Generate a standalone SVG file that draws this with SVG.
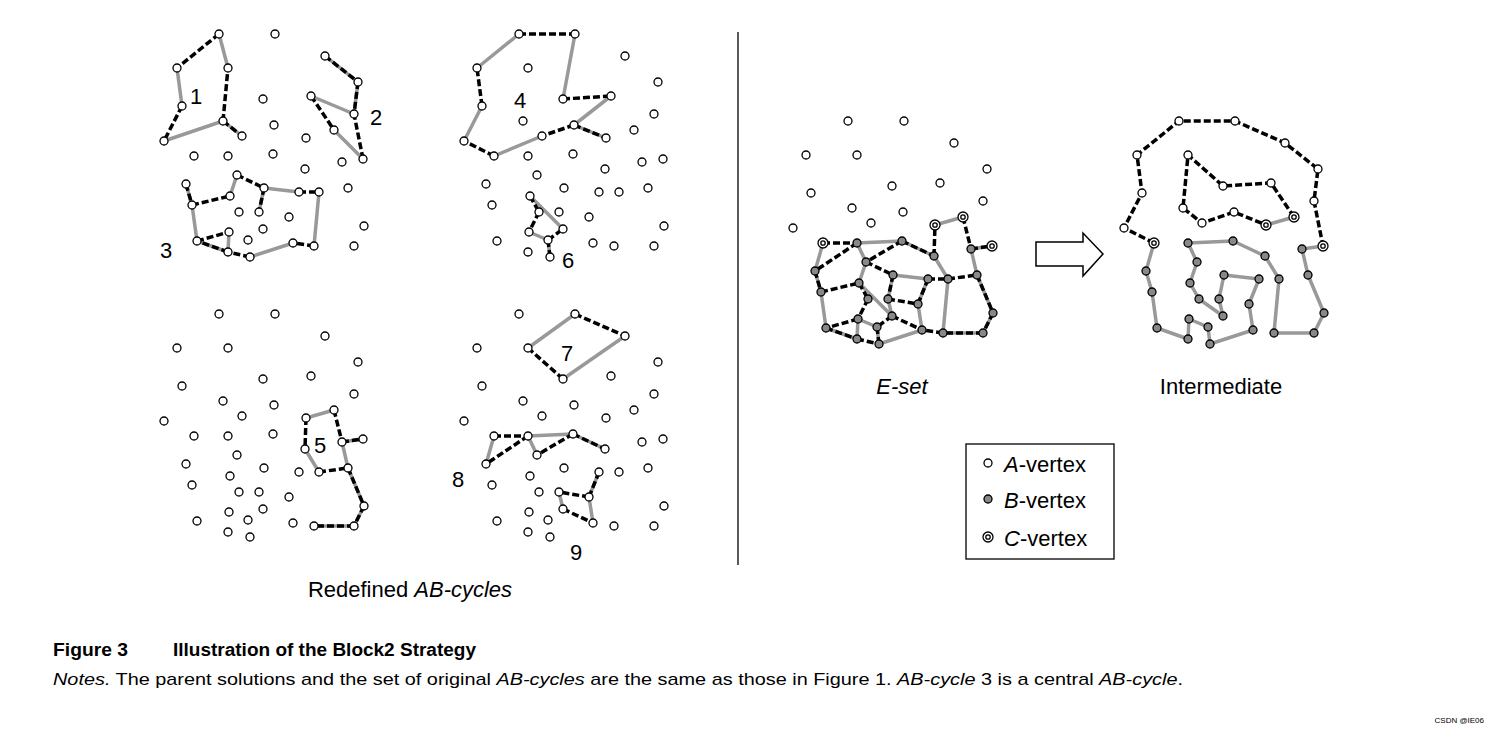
<svg xmlns="http://www.w3.org/2000/svg" xmlns:xlink="http://www.w3.org/1999/xlink" width="1498" height="734" viewBox="0 0 1498 734">
<style>
.g{fill:none;stroke:#999;stroke-width:3.5;stroke-linecap:round;stroke-linejoin:round}
.d{fill:none;stroke:#000;stroke-width:3.5;stroke-dasharray:7 3}
.pw{fill:#fff;stroke:#000;stroke-width:1.3}
.pb{fill:#888;stroke:#000;stroke-width:1.3}
.lab{font-family:"Liberation Sans",Arial,sans-serif;font-size:22px;fill:#000}
.cap{font-family:"Liberation Sans",Arial,sans-serif;fill:#000}
</style>
<defs>
<g id="wp">
<circle cx="219" cy="34" r="4"/><circle cx="275" cy="34" r="4"/><circle cx="325" cy="56" r="4"/><circle cx="177" cy="68" r="4"/><circle cx="228" cy="68" r="4"/><circle cx="358" cy="82" r="4"/><circle cx="182" cy="106" r="4"/><circle cx="263" cy="99" r="4"/><circle cx="311" cy="96" r="4"/><circle cx="354" cy="114" r="4"/><circle cx="223" cy="121" r="4"/><circle cx="274" cy="125" r="4"/><circle cx="164" cy="141" r="4"/><circle cx="242" cy="136" r="4"/>
</g>
<g id="cp"><circle cx="306" cy="138" r="4"/><circle cx="334" cy="130" r="4"/><circle cx="363" cy="159" r="4"/><circle cx="194" cy="156" r="4"/></g>
<g id="cpb"><circle cx="306" cy="138" r="5"/><circle cx="334" cy="130" r="5"/><circle cx="363" cy="159" r="5"/><circle cx="194" cy="156" r="5"/></g>
<g id="cpi"><circle cx="306" cy="138" r="2.2"/><circle cx="334" cy="130" r="2.2"/><circle cx="363" cy="159" r="2.2"/><circle cx="194" cy="156" r="2.2"/></g>
<g id="bp">
<circle cx="228" cy="156" r="4"/><circle cx="273" cy="154" r="4"/><circle cx="305" cy="169" r="4"/><circle cx="342" cy="162" r="4"/><circle cx="237" cy="175" r="4"/><circle cx="186" cy="184" r="4"/><circle cx="264" cy="188" r="4"/><circle cx="299" cy="192" r="4"/><circle cx="319" cy="192" r="4"/><circle cx="348" cy="188" r="4"/><circle cx="192" cy="205" r="4"/><circle cx="230" cy="196" r="4"/><circle cx="239" cy="212" r="4"/><circle cx="259" cy="212" r="4"/><circle cx="289" cy="217" r="4"/><circle cx="364" cy="226" r="4"/><circle cx="263" cy="229" r="4"/><circle cx="229" cy="232" r="4"/><circle cx="197" cy="241" r="4"/><circle cx="248" cy="240" r="4"/><circle cx="293" cy="243" r="4"/><circle cx="314" cy="246" r="4"/><circle cx="354" cy="246" r="4"/><circle cx="228" cy="252" r="4"/><circle cx="250" cy="257" r="4"/>
</g>
</defs>
<rect width="1498" height="734" fill="#fff"/>
<g id="connectors">
<g id="edges-p1">
<path class="g" d="M177 68L182 106M164 141L223 121M223 121L242 136M228 68L219 34M325 56L358 82M358 82L354 114M354 114L311 96M334 130L363 159M186 184L192 205M230 196L237 175M264 188L259 212M264 188L299 192M319 192L314 246M293 243L250 257M228 252L197 241M229 232L228 252M197 241L192 205"/>
<path class="d" d="M219 34L177 68M182 106L164 141M223 121L242 136M223 121L228 68M325 56L358 82M358 82L354 114M311 96L334 130M363 159L354 114M186 184L192 205M192 205L230 196M237 175L264 188M264 188L259 212M299 192L319 192M314 246L293 243M250 257L228 252M228 252L197 241M197 241L229 232"/>
</g>
<g id="edges-p2" transform="translate(300 0)">
<path class="g" d="M275 34L263 99M311 96L274 125M274 125L306 138M242 136L194 156M164 141L182 106M177 68L219 34M230 196L263 229M229 232L248 240M248 240L250 257"/>
<path class="d" d="M219 34L275 34M263 99L311 96M274 125L306 138M274 125L242 136M194 156L164 141M182 106L177 68M230 196L239 212M239 212L229 232M248 240L263 229M248 240L250 257"/>
</g>
<g id="edges-p3" transform="translate(0 280)">
<path class="g" d="M306 138L334 130M342 162L363 159M305 169L319 192M348 188L342 162M348 188L364 226M364 226L354 246M354 246L314 246"/>
<path class="d" d="M334 130L342 162M342 162L363 159M306 138L305 169M319 192L348 188M348 188L364 226M364 226L354 246M354 246L314 246"/>
</g>
<g id="edges-p4" transform="translate(300 280)">
<path class="g" d="M325 56L263 99M228 68L275 34M228 156L273 154M273 154L305 169M237 175L228 156M186 184L194 156M299 192L289 217M259 212L263 229M293 243L289 217"/>
<path class="d" d="M275 34L325 56M263 99L228 68M194 156L228 156M273 154L305 169M273 154L237 175M228 156L186 184M299 192L289 217M289 217L259 212M263 229L293 243"/>
</g>
<g id="edges-eset" transform="translate(629 87)">
<path class="g" d="M228 156L273 154M228 156L237 175M194 156L186 184M273 154L305 169M306 138L334 130M342 162L363 159M305 169L319 192M237 175L230 196M186 184L192 205M192 205L197 241M230 196L263 229M264 188L259 212M264 188L299 192M348 188L342 162M348 188L364 226M364 226L354 246M354 246L314 246M319 192L314 246M289 217L299 192M289 217L293 243M259 212L263 229M248 240L250 257M248 240L229 232M229 232L228 252M197 241L228 252M250 257L293 243"/>
<path class="d" d="M194 156L228 156M228 156L186 184M273 154L237 175M273 154L305 169M305 169L306 138M334 130L342 162M342 162L363 159M237 175L264 188M186 184L192 205M192 205L230 196M230 196L239 212M239 212L229 232M264 188L259 212M299 192L319 192M319 192L348 188M348 188L364 226M364 226L354 246M354 246L314 246M314 246L293 243M259 212L289 217M289 217L299 192M263 229L293 243M263 229L248 240M248 240L250 257M229 232L197 241M197 241L228 252M228 252L250 257"/>
</g>
<g id="edges-inter" transform="translate(960 87)">
<path class="g" d="M306 138L334 130M194 156L186 184L192 205L197 241L228 252L229 232L248 240L250 257L293 243L289 217L299 192L264 188L259 212L263 229L239 212L230 196L237 175L228 156L273 154L305 169L319 192L314 246L354 246L364 226L348 188L342 162L363 159"/>
<path class="d" d="M194 156L164 141L182 106L177 68L219 34L275 34L325 56L358 82L354 114L363 159M334 130L311 96L263 99L228 68L223 121L242 136L274 125L306 138"/>
</g>
</g>
<g id="panel-1"><use xlink:href="#wp" class="pw"/><use xlink:href="#cp" class="pw"/><use xlink:href="#bp" class="pw"/>
<text class="lab" x="190" y="104">1</text><text class="lab" x="370" y="125">2</text><text class="lab" x="160" y="258">3</text></g>
<g id="panel-2" transform="translate(300 0)"><use xlink:href="#wp" class="pw"/><use xlink:href="#cp" class="pw"/><use xlink:href="#bp" class="pw"/>
<text class="lab" x="214" y="108">4</text><text class="lab" x="262" y="268">6</text></g>
<g id="panel-3" transform="translate(0 280)"><use xlink:href="#wp" class="pw"/><use xlink:href="#cp" class="pw"/><use xlink:href="#bp" class="pw"/>
<text class="lab" x="314" y="173">5</text></g>
<g id="panel-4" transform="translate(300 280)"><use xlink:href="#wp" class="pw"/><use xlink:href="#cp" class="pw"/><use xlink:href="#bp" class="pw"/>
<text class="lab" x="261" y="81">7</text><text class="lab" x="152" y="207">8</text><text class="lab" x="270" y="280">9</text></g>
<line x1="738" y1="32" x2="738" y2="565" stroke="#000" stroke-width="1.3"/>
<g id="eset" transform="translate(629 87)"><use xlink:href="#wp" class="pw"/><use xlink:href="#cpb" class="pw"/><use xlink:href="#cpi" class="pw"/><use xlink:href="#bp" class="pb"/></g>
<text class="lab" x="902" y="394" text-anchor="middle" font-style="italic">E-set</text>
<g id="intermediate" transform="translate(960 87)"><use xlink:href="#wp" class="pw"/><use xlink:href="#cpb" class="pw"/><use xlink:href="#cpi" class="pw"/><use xlink:href="#bp" class="pb"/></g>
<text class="lab" x="1221" y="394" text-anchor="middle">Intermediate</text>
<polygon id="arrow" points="1036,242 1083,242 1083,233 1103,254 1083,276 1083,266 1036,266" fill="#fff" stroke="#000" stroke-width="1.5"/>
<g id="legend">
<rect x="966" y="444" width="148" height="115" fill="#fff" stroke="#000" stroke-width="1.3"/>
<circle class="pw" cx="988" cy="463" r="4"/>
<text class="lab" x="1004" y="472"><tspan font-style="italic">A</tspan>-vertex</text>
<circle class="pb" cx="988" cy="499" r="4"/>
<text class="lab" x="1004" y="508"><tspan font-style="italic">B</tspan>-vertex</text>
<circle class="pw" cx="988" cy="537" r="5"/><circle class="pw" cx="988" cy="537" r="2.2"/>
<text class="lab" x="1004" y="546"><tspan font-style="italic">C</tspan>-vertex</text>
</g>
<text class="lab" x="410" y="597" text-anchor="middle">Redefined <tspan font-style="italic">AB-cycles</tspan></text>
<text class="cap" x="53" y="656" font-size="18" font-weight="bold" textLength="75" lengthAdjust="spacingAndGlyphs">Figure 3</text>
<text class="cap" x="173" y="656" font-size="18" font-weight="bold" textLength="303" lengthAdjust="spacingAndGlyphs">Illustration of the Block2 Strategy</text>
<text class="cap" x="53" y="685" font-size="17" textLength="1130" lengthAdjust="spacingAndGlyphs"><tspan font-style="italic">Notes.</tspan>  The parent solutions and the set of original <tspan font-style="italic">AB-cycles</tspan> are the same as those in Figure 1. <tspan font-style="italic">AB-cycle</tspan> 3 is a central <tspan font-style="italic">AB-cycle</tspan>.</text>
<text class="cap" x="1484" y="723" font-size="8" fill="#aaa" text-anchor="end">CSDN @IE06</text>
</svg>
